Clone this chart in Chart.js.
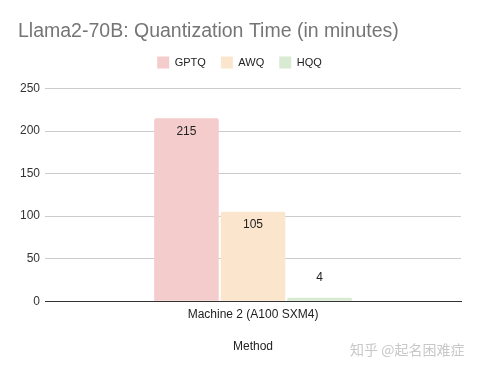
<!DOCTYPE html>
<html>
<head>
<meta charset="utf-8">
<script src="https://cdn.jsdelivr.net/npm/chart.js@4"></script>
<style>
html,body{margin:0;padding:0;background:#fff;}
#wrap{position:relative;width:480px;height:371px;}
#wm{position:absolute;left:350px;top:339px;font-family:"Noto Sans CJK SC",sans-serif;font-size:14px;color:#c8c8c8;white-space:nowrap;}
</style>
</head>
<body>
<div id="wrap">
<canvas id="c" width="480" height="371"></canvas>
<div id="wm">知乎 @起名困难症</div>
</div>
<script>
const categories = ["Machine 2 (A100 SXM4)"];
const seriesNames = ["GPTQ", "AWQ", "HQQ"];
const gptq = [215];
const awq = [105];
const hqq = [4];
const seriesColors = ["#f4cccc", "#fce5cd", "#d9ead3"];
const yTicks = [0, 50, 100, 150, 200, 250];

const labelPlugin = {
  id: 'barLabels',
  afterDatasetsDraw(chart) {
    const ctx = chart.ctx;
    ctx.save();
    ctx.font = '12px Arial, "Liberation Sans", sans-serif';
    ctx.fillStyle = '#222';
    ctx.textAlign = 'center';
    ctx.textBaseline = 'middle';
    chart.data.datasets.forEach((ds, i) => {
      const meta = chart.getDatasetMeta(i);
      meta.data.forEach((bar, j) => {
        const v = ds.data[j];
        const h = bar.base - bar.y;
        const y = h > 30 ? bar.y + 13 : bar.y - 20;
        ctx.fillText(String(v), bar.x, y);
      });
    });
    ctx.restore();
  }
};

const legendMargin = {
  id: 'legendMargin',
  beforeInit(chart) {
    const orig = chart.legend.fit;
    chart.legend.fit = function() {
      orig.call(this);
      this.height += 10;
    };
  }
};

const font = 'Arial, "Liberation Sans", sans-serif';
new Chart(document.getElementById('c'), {
  type: 'bar',
  data: {
    labels: categories,
    datasets: [
      {label: seriesNames[0], data: gptq, backgroundColor: seriesColors[0]},
      {label: seriesNames[1], data: awq, backgroundColor: seriesColors[1]},
      {label: seriesNames[2], data: hqq, backgroundColor: seriesColors[2]}
    ]
  },
  options: {
    responsive: false,
    animation: false,
    events: [],
    devicePixelRatio: 1,
    layout: {padding: {left: 18, right: 19, top: 0, bottom: 13}},
    datasets: {bar: {categoryPercentage: 0.48, barPercentage: 0.97, borderRadius: {topLeft: 2, topRight: 2}}},
    plugins: {
      title: {display: true, text: 'Llama2-70B: Quantization Time (in minutes)', align: 'start',
        color: '#757575', font: {family: font, size: 19.5, weight: 'normal', lineHeight: 1}, padding: {top: 22, bottom: 0}},
      legend: {display: true, position: 'top',
        labels: {boxWidth: 12, boxHeight: 12, padding: 15, color: '#222', font: {family: font, size: 11}}},
      tooltip: {enabled: false}
    },
    scales: {
      x: {
        grid: {display: false, drawTicks: false},
        border: {color: '#333', width: 1},
        ticks: {color: '#222', font: {family: font, size: 12}, padding: 6},
        title: {display: true, text: 'Method', color: '#222', font: {family: font, size: 12}, padding: {top: 12}}
      },
      y: {
        min: 0, max: 250,
        afterBuildTicks(axis) { axis.ticks = yTicks.map(v => ({value: v})); },
        afterFit(axis) { axis.width -= 3; },
        grid: {color: '#cccccc', drawTicks: false},
        border: {display: false},
        ticks: {color: '#333', font: {family: font, size: 12}, padding: 5}
      }
    }
  },
  plugins: [labelPlugin, legendMargin]
});
</script>
</body>
</html>
